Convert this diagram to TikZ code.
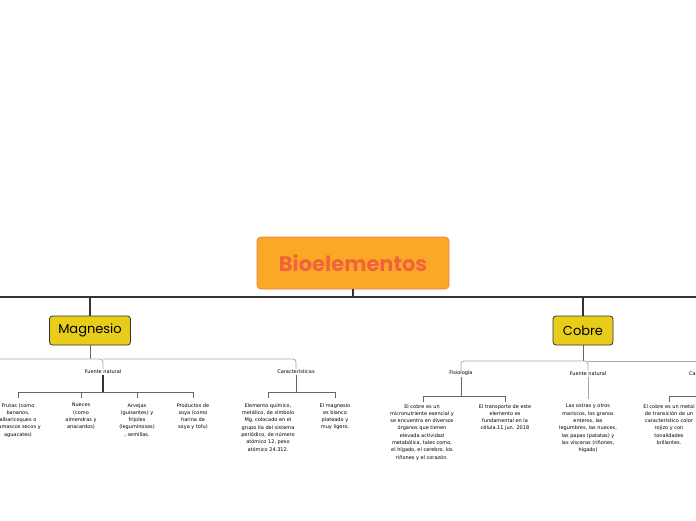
\documentclass[tikz,border=0pt]{standalone}
\usepackage{fontspec}
\setmainfont{DejaVu Sans}
\newfontfamily\popf{Poppins}
\begin{document}
\begin{tikzpicture}[x=1pt,y=-1pt,
 lf/.style={font=\fontsize{5}{7.3}\selectfont, align=center, anchor=north, inner sep=0pt},
 hd/.style={font=\fontsize{5}{6}\selectfont, inner sep=1pt},
 thick1/.style={draw=black!80, line width=1.6pt},
 br/.style={draw=black!60, line width=0.8pt},
 lbr/.style={draw=black!35, line width=0.8pt},
 topic/.style={draw=black!80, line width=0.8pt, rounded corners=3pt, fill=yellow!80!orange!90!black, font=\popf\fontsize{13}{14}\selectfont, inner sep=0pt}]
\useasboundingbox (0,0) rectangle (696,520);
\clip (0,0) rectangle (696,520);
\node[draw={rgb,255:red,240;green,125;blue,74}, line width=0.8pt, fill={rgb,255:red,250;green,168;blue,38}, rounded corners=4pt, minimum width=192pt, minimum height=52pt, font=\popf\bfseries\fontsize{21}{22}\selectfont, text={rgb,255:red,240;green,100;blue,60}] (t) at (353,263) {Bioelementos};
\node[topic, minimum width=81pt, minimum height=29pt] (mg) at (90,330.5) {Magnesio};
\node[topic, minimum width=60pt, minimum height=29pt] (cu) at (583,330.5) {Cobre};
\coordinate (jl) at (0,297); \coordinate (jr) at (696,297);
\draw[thick1] (jl) -- (jr);
\draw[thick1] (t.south) -- (353,297);
\draw[thick1] (90,297) -- (mg.north);
\draw[thick1] (583,297) -- (cu.north);
% Magnesio
\node[hd] (mf) at (103,372) {Fuente natural};
\node[hd] (mc) at (296,372) {Características};
\draw[br] (mg.south) -- (90,359);
\draw[lbr, rounded corners=3pt] (0,359) -- (103,359) -- (mf.north);
\draw[lbr, rounded corners=3pt] (103,359) -- (296,359) -- (mc.north);
\draw[thick1, line width=1.2pt] (mf.south) -- (103,392);
\draw[br] (18,398) -- (18,392) -- (193,392) -- (193,398);
\draw[br] (81,392) -- (81,398); \draw[br] (137,392) -- (137,398);
\node[lf] (a1) at (18,403) {Frutas (como\\bananos,\\albaricoques o\\damascos secos y\\aguacates)};
\node[lf] (a2) at (81,403) {Nueces\\(como\\almendras y\\anacardos)};
\node[lf] (a3) at (137,403) {Arvejas\\(guisantes) y\\frijoles\\(leguminosas)\\, semillas.};
\node[lf] (a4) at (193,403) {Productos de\\soya (como\\harina de\\soya y tofu)};
\draw[br] (mc.south) -- (296,392);
\draw[br] (268,398) -- (268,392) -- (335,392) -- (335,398);
\node[lf] (b1) at (268,403) {Elemento químico,\\metálico, de símbolo\\Mg, colocado en el\\grupo IIa del sistema\\periódico, de número\\atómico 12, peso\\atómico 24.312.};
\node[lf] (b2) at (335,403) {El magnesio\\es blanco\\plateado y\\muy ligero.};
% Cobre
\node[hd] (cf) at (461,373.5) {Fisiología};
\node[hd] (cn) at (588,373.5) {Fuente natural};
\node[hd, anchor=west] (cc) at (688,373.5) {Características};
\draw[br] (cu.south) -- (583,361);
\draw[lbr, rounded corners=3pt] (cf.north) -- (461,361) -- (588,361) -- (cn.north);
\draw[lbr, rounded corners=3pt] (588,361) -- (696,361);
\draw[br] (cf.south) -- (461,396);
\draw[br] (423,402) -- (423,396) -- (505,396) -- (505,402);
\node[lf] (c1) at (422,404) {El cobre es un\\micronutriente esencial y\\se encuentra en diversos\\órganos que tienen\\elevada actividad\\metabólica, tales como,\\el hígado, el cerebro, los\\riñones y el corazón.};
\node[lf] (c2) at (505,404) {El transporte de este\\elemento es\\fundamental en la\\célula.11 jun. 2018};
\draw[lbr] (cn.south) -- (588,399);
\node[lf] (d1) at (588,404) {Las ostras y otros\\mariscos, los granos\\enteros, las\\legumbres, las nueces,\\las papas (patatas) y\\las vísceras (riñones,\\hígado)};
\draw[br] (669,402) -- (669,396) -- (696,396);
\node[lf] (e1) at (669,404) {El cobre es un metal\\de transición de un\\característico color\\rojizo y con\\tonalidades\\brillantes.};
\end{tikzpicture}
\end{document}
